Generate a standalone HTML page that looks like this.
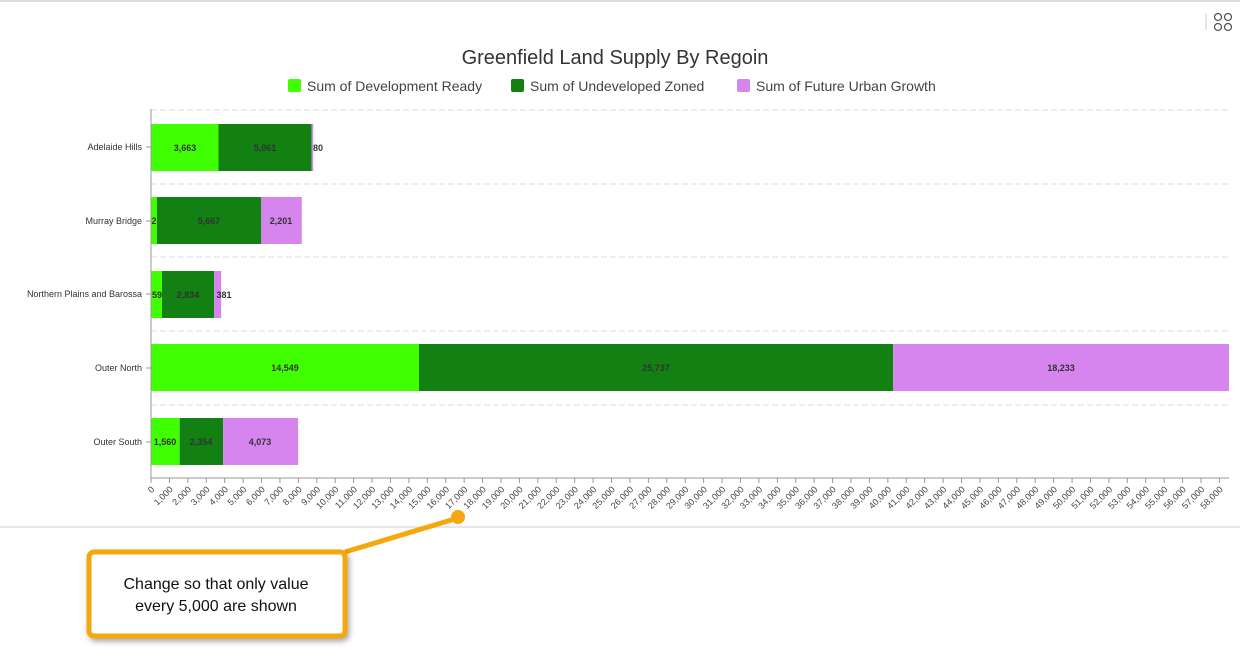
<!DOCTYPE html><html><head><meta charset="utf-8"><style>body{margin:0;background:#fff;width:1240px;height:652px;overflow:hidden;font-family:"Liberation Sans",sans-serif}</style></head><body>
<svg width="1240" height="652" xmlns="http://www.w3.org/2000/svg" font-family="Liberation Sans, sans-serif">
<line x1="0" y1="1" x2="1240" y2="1" stroke="#ddd" stroke-width="2"/>
<line x1="0" y1="527" x2="1240" y2="527" stroke="#e6e6e6" stroke-width="2"/>
<line x1="1206" y1="13" x2="1206" y2="30" stroke="#ccc"/>
<g fill="none" stroke="#555" stroke-width="1.3"><circle cx="1218" cy="17" r="3.5"/><circle cx="1228" cy="17" r="3.5"/><circle cx="1218" cy="27" r="3.5"/><circle cx="1228" cy="27" r="3.5"/></g>
<text x="615" y="64" text-anchor="middle" font-size="20" fill="#333">Greenfield Land Supply By Regoin</text>
<g font-size="14" fill="#444">
<rect x="288" y="79" width="13" height="13" rx="2" fill="#40ff00"/><text x="307" y="91">Sum of Development Ready</text>
<rect x="511" y="79" width="13" height="13" rx="2" fill="#128012"/><text x="530" y="91">Sum of Undeveloped Zoned</text>
<rect x="737" y="79" width="13" height="13" rx="2" fill="#d685ef"/><text x="756" y="91">Sum of Future Urban Growth</text>
</g>
<g stroke="#ddd" stroke-dasharray="6,3"><line x1="151" y1="110" x2="1229" y2="110"/><line x1="151" y1="184" x2="1229" y2="184"/><line x1="151" y1="257" x2="1229" y2="257"/><line x1="151" y1="331" x2="1229" y2="331"/><line x1="151" y1="405" x2="1229" y2="405"/></g>
<g>
<rect x="151" y="124" width="67.5" height="47" fill="#40ff00"/><rect x="218.5" y="124" width="93.2" height="47" fill="#128012"/><rect x="311.7" y="124" width="1.5" height="47" fill="#d685ef"/>
<rect x="151" y="197" width="5.9" height="47" fill="#40ff00"/><rect x="156.9" y="197" width="104.4" height="47" fill="#128012"/><rect x="261.3" y="197" width="40.5" height="47" fill="#d685ef"/>
<rect x="151" y="271" width="11" height="47" fill="#40ff00"/><rect x="162" y="271" width="52.2" height="47" fill="#128012"/><rect x="214.2" y="271" width="7" height="47" fill="#d685ef"/>
<rect x="151" y="344" width="268" height="47" fill="#40ff00"/><rect x="419" y="344" width="474.1" height="47" fill="#128012"/><rect x="893.1" y="344" width="335.9" height="47" fill="#d685ef"/>
<rect x="151" y="418" width="28.7" height="47" fill="#40ff00"/><rect x="179.7" y="418" width="43.4" height="47" fill="#128012"/><rect x="223.1" y="418" width="75" height="47" fill="#d685ef"/>
</g>
<g font-size="9" fill="#333" text-anchor="middle" font-weight="bold">
<text x="185" y="151">3,663</text><text x="265" y="151">5,061</text><text x="318" y="151">80</text>
<text x="154" y="224">2</text><text x="209" y="224">5,667</text><text x="281" y="224">2,201</text>
<text x="157" y="298">59</text><text x="188" y="298">2,834</text><text x="224" y="298">381</text>
<text x="285" y="371">14,549</text><text x="656" y="371">25,737</text><text x="1061" y="371">18,233</text>
<text x="165" y="445">1,560</text><text x="201" y="445">2,354</text><text x="260" y="445">4,073</text>
</g>
<g font-size="9" fill="#333" text-anchor="end">
<text x="142" y="150">Adelaide Hills</text><text x="142" y="224">Murray Bridge</text><text x="142" y="297">Northern Plains and Barossa</text><text x="142" y="371">Outer North</text><text x="142" y="445">Outer South</text>
</g>
<g stroke="#999"><line x1="151" y1="109" x2="151" y2="478"/><line x1="151" y1="478" x2="1229" y2="478"/>
<line x1="146" y1="147" x2="151" y2="147"/><line x1="146" y1="221" x2="151" y2="221"/><line x1="146" y1="294" x2="151" y2="294"/><line x1="146" y1="368" x2="151" y2="368"/><line x1="146" y1="442" x2="151" y2="442"/></g>
<g id="ticks" font-size="9" fill="#444"></g>
<line x1="345" y1="552" x2="458" y2="518" stroke="#f5a80d" stroke-width="5"/>
<circle cx="458" cy="517" r="7" fill="#f5a80d"/>
<rect x="89" y="552" width="256" height="84" rx="5" fill="#fff" stroke="#f5a80d" stroke-width="5" style="filter:drop-shadow(2px 3px 3px rgba(0,0,0,.35))"/>
<text x="216" y="589" text-anchor="middle" font-size="16" fill="#111">Change so that only value</text>
<text x="216" y="611" text-anchor="middle" font-size="16" fill="#111">every 5,000 are shown</text>
</svg>
<script>
var g=document.getElementById('ticks'),ns='http://www.w3.org/2000/svg';
for(var i=0;i<=58;i++){var x=151+i*18.421;
var l=document.createElementNS(ns,'line');l.setAttribute('x1',x);l.setAttribute('x2',x);l.setAttribute('y1',478);l.setAttribute('y2',483);l.setAttribute('stroke','#999');g.appendChild(l);
var t=document.createElementNS(ns,'text');t.setAttribute('text-anchor','end');t.setAttribute('transform','translate('+(x+4)+',490) rotate(-45)');t.textContent=(i*1000).toLocaleString('en-US');g.appendChild(t);}
</script>
</body></html>
